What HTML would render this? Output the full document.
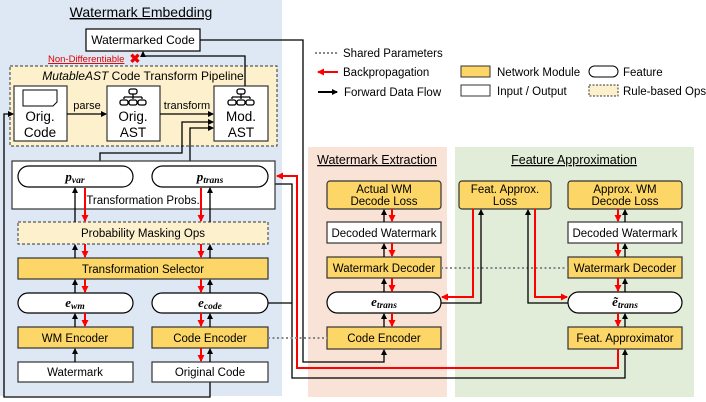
<!DOCTYPE html>
<html><head><meta charset="utf-8"><style>
html,body{margin:0;padding:0;background:#fff}
svg{display:block}
text{font-family:"Liberation Sans",sans-serif;font-size:11.5px;fill:#000}
.m{font-family:"Liberation Serif",serif;font-style:italic;font-weight:bold;font-size:13px}
</style></head><body>
<svg width="706" height="402" viewBox="0 0 706 402" xmlns="http://www.w3.org/2000/svg">
<defs>
<marker id="ab" markerWidth="6" markerHeight="6" refX="5" refY="3" orient="auto" markerUnits="userSpaceOnUse"><path d="M0,0 L6,3 L0,6 z" fill="#000"/></marker>
<marker id="ar" markerWidth="7" markerHeight="7" refX="6" refY="3.5" orient="auto" markerUnits="userSpaceOnUse"><path d="M0,0 L7,3.5 L0,7 z" fill="#f00"/></marker>
</defs>
<rect x="0" y="0" width="282" height="396" fill="#dde8f4"/>
<rect x="308" y="147" width="139" height="250" fill="#f9e2d6"/>
<rect x="455" y="147" width="239" height="250" fill="#e2edd9"/>
<text x="141" y="17" text-anchor="middle" style="font-size:14px;text-decoration:underline">Watermark Embedding</text>
<text x="377" y="164" text-anchor="middle" style="font-size:12.5px;text-decoration:underline">Watermark Extraction</text>
<text x="574" y="164" text-anchor="middle" style="font-size:12.5px;text-decoration:underline">Feature Approximation</text>

<line x1="315" y1="53" x2="337" y2="53" stroke="#888" stroke-width="2" stroke-dasharray="2,2"/>
<text x="343" y="57">Shared Parameters</text>
<line x1="338" y1="72" x2="318" y2="72" stroke="#f00" stroke-width="2" marker-end="url(#ar)"/>
<text x="343" y="76">Backpropagation</text>
<line x1="318" y1="92" x2="337" y2="92" stroke="#000" stroke-width="2" marker-end="url(#ab)"/>
<text x="344" y="96">Forward Data Flow</text>
<rect x="461" y="66" width="29" height="11" fill="#fcd666" stroke="#333"/>
<text x="497" y="76">Network Module</text>
<rect x="461" y="85" width="29" height="11" fill="#fff" stroke="#333"/>
<text x="497" y="95">Input / Output</text>
<rect x="589" y="66" width="29" height="11" rx="5.5" fill="#fff" stroke="#000"/>
<text x="623" y="76">Feature</text>
<rect x="589" y="85" width="29" height="11" fill="#fdf0cc" stroke="#333" stroke-dasharray="2,1.5"/>
<text x="623" y="95">Rule-based Ops</text>

<rect x="86" y="29" width="114" height="22" fill="#fff" stroke="#000" stroke-width="1.2"/>
<text x="143" y="44" text-anchor="middle" style="font-size:12px">Watermarked Code</text>
<text x="48" y="62" style="font-size:9.5px;fill:#d00;text-decoration:underline">Non-Differentiable</text>
<text x="135" y="63" text-anchor="middle" style="font-size:13px;font-weight:bold;fill:#e00">✖</text>

<rect x="10" y="66" width="267" height="80" fill="#fdf0cc" stroke="#333" stroke-dasharray="3,2"/>
<text x="143" y="80" text-anchor="middle" style="font-size:12px"><tspan font-style="italic">MutableAST</tspan> Code Transform Pipeline</text>
<rect x="14" y="86" width="53" height="55" fill="#fff" stroke="#333" stroke-width="1.2"/>
<path d="M23,90 h34 v12 l-4,4 h-30 z" fill="#fff" stroke="#000"/>
<text x="40" y="121" text-anchor="middle" style="font-size:13.5px">Orig.</text>
<text x="40" y="137" text-anchor="middle" style="font-size:13.5px">Code</text>
<rect x="107" y="86" width="53" height="55" fill="#fff" stroke="#333" stroke-width="1.2"/>
<rect x="214" y="86" width="54" height="55" fill="#fff" stroke="#333" stroke-width="1.2"/>
<g fill="#fff" stroke="#000" stroke-width="1.3">
<rect x="129" y="89" width="8" height="5" rx="2"/><path d="M133,94 v3 M124,97 h18 M124,97 v2 M133,97 v2 M142,97 v2"/>
<rect x="120" y="100" width="8" height="5" rx="2"/><rect x="129" y="100" width="8" height="5" rx="2"/><rect x="138" y="100" width="8" height="5" rx="2"/>
<rect x="237" y="89" width="8" height="5" rx="2"/><path d="M241,94 v3 M232,97 h18 M232,97 v2 M241,97 v2 M250,97 v2"/>
<rect x="228" y="100" width="8" height="5" rx="2"/><rect x="237" y="100" width="8" height="5" rx="2"/><rect x="246" y="100" width="8" height="5" rx="2"/>
</g>
<text x="133" y="121" text-anchor="middle" style="font-size:13.5px">Orig.</text>
<text x="133" y="137" text-anchor="middle" style="font-size:13.5px">AST</text>
<text x="241" y="121" text-anchor="middle" style="font-size:13.5px">Mod.</text>
<text x="241" y="137" text-anchor="middle" style="font-size:13.5px">AST</text>
<text x="87" y="109" text-anchor="middle" style="font-size:11px">parse</text>
<text x="187" y="109" text-anchor="middle" style="font-size:11px">transform</text>
<g stroke="#000" stroke-width="1.3" fill="none">
<line x1="67" y1="114" x2="106" y2="114" marker-end="url(#ab)"/>
<line x1="160" y1="114" x2="213" y2="114" marker-end="url(#ab)"/>
<polyline points="245,86 245,56 143,56 143,52" marker-end="url(#ab)"/>
<polyline points="100,166 100,153 182,153 182,122 213,122" marker-end="url(#ab)"/>
<polyline points="190,166 190,128 213,128" marker-end="url(#ab)"/>
<polyline points="200,40 303,40 303,362 384,362 384,350" marker-end="url(#ab)"/>
<polyline points="210,382 210,397 4,397 4,114 13,114" marker-end="url(#ab)"/>
<polyline points="275,184 292,184 292,378 625,378 625,350" marker-end="url(#ab)"/>
<line x1="268" y1="303" x2="292" y2="303"/>
</g>
<polyline points="618,349 618,368 297,368 297,176 277,176" fill="none" stroke="#f00" stroke-width="2" marker-end="url(#ar)"/>

<rect x="12" y="161" width="263" height="48" fill="#fff" stroke="#333" stroke-width="1.2"/>
<rect x="18" y="166" width="115" height="21" rx="10.5" fill="#fff" stroke="#000" stroke-width="1.2"/>
<rect x="152" y="166" width="116" height="21" rx="10.5" fill="#fff" stroke="#000" stroke-width="1.2"/>
<text x="75" y="181" text-anchor="middle" class="m">p<tspan style="font-size:9.5px" dy="2">var</tspan></text>
<text x="210" y="181" text-anchor="middle" class="m">p<tspan style="font-size:9.5px" dy="2">trans</tspan></text>
<text x="143" y="204" text-anchor="middle">Transformation Probs.</text>

<rect x="18" y="222" width="250" height="22" fill="#fdf0cc" stroke="#333" stroke-dasharray="3,2"/>
<text x="143" y="237" text-anchor="middle">Probability Masking Ops</text>
<rect x="18" y="258" width="250" height="21" fill="#fcd666" stroke="#333" stroke-width="1.2"/>
<text x="143" y="273" text-anchor="middle">Transformation Selector</text>
<rect x="18" y="293" width="115" height="20" rx="10" fill="#fff" stroke="#000" stroke-width="1.2"/>
<rect x="152" y="293" width="116" height="20" rx="10" fill="#fff" stroke="#000" stroke-width="1.2"/>
<text x="75" y="307" text-anchor="middle" class="m">e<tspan style="font-size:9.5px" dy="2">wm</tspan></text>
<text x="210" y="307" text-anchor="middle" class="m">e<tspan style="font-size:9.5px" dy="2">code</tspan></text>
<rect x="18" y="327" width="115" height="21" fill="#fcd666" stroke="#333" stroke-width="1.2"/>
<rect x="152" y="327" width="116" height="21" fill="#fcd666" stroke="#333" stroke-width="1.2"/>
<text x="75" y="342" text-anchor="middle">WM Encoder</text>
<text x="210" y="342" text-anchor="middle">Code Encoder</text>
<rect x="18" y="362" width="115" height="20" fill="#fff" stroke="#333" stroke-width="1.2"/>
<rect x="152" y="362" width="116" height="20" fill="#fff" stroke="#333" stroke-width="1.2"/>
<text x="75" y="376" text-anchor="middle">Watermark</text>
<text x="210" y="376" text-anchor="middle">Original Code</text>

<g stroke="#000" stroke-width="1.3" marker-end="url(#ab)">
<line x1="75" y1="222" x2="75" y2="188"/><line x1="210" y1="222" x2="210" y2="188"/>
<line x1="75" y1="258" x2="75" y2="245"/><line x1="210" y1="258" x2="210" y2="245"/>
<line x1="75" y1="293" x2="75" y2="280"/><line x1="210" y1="293" x2="210" y2="280"/>
<line x1="75" y1="327" x2="75" y2="314"/><line x1="210" y1="327" x2="210" y2="314"/>
<line x1="75" y1="362" x2="75" y2="349"/><line x1="210" y1="362" x2="210" y2="349"/>
</g>
<g stroke="#f00" stroke-width="2" marker-end="url(#ar)">
<line x1="85" y1="188" x2="85" y2="221"/><line x1="201" y1="188" x2="201" y2="221"/>
<line x1="85" y1="244" x2="85" y2="257"/><line x1="201" y1="244" x2="201" y2="257"/>
<line x1="85" y1="279" x2="85" y2="292"/><line x1="201" y1="279" x2="201" y2="292"/>
<line x1="85" y1="313" x2="85" y2="326"/><line x1="201" y1="313" x2="201" y2="326"/>
<line x1="201" y1="348" x2="201" y2="361"/>
</g>

<rect x="327" y="181" width="114" height="28" rx="3" fill="#fcd666" stroke="#333" stroke-width="1.2"/>
<text x="384" y="193" text-anchor="middle">Actual WM</text><text x="384" y="205" text-anchor="middle">Decode Loss</text>
<rect x="327" y="222" width="114" height="21" fill="#fff" stroke="#333" stroke-width="1.2"/>
<text x="384" y="237" text-anchor="middle">Decoded Watermark</text>
<rect x="327" y="257" width="114" height="21" fill="#fcd666" stroke="#333" stroke-width="1.2"/>
<text x="384" y="272" text-anchor="middle">Watermark Decoder</text>
<rect x="327" y="292" width="114" height="21" rx="10.5" fill="#fff" stroke="#000" stroke-width="1.2"/>
<text x="384" y="306" text-anchor="middle" class="m">e<tspan style="font-size:9.5px" dy="2">trans</tspan></text>
<rect x="327" y="327" width="114" height="22" fill="#fcd666" stroke="#333" stroke-width="1.2"/>
<text x="384" y="342" text-anchor="middle">Code Encoder</text>

<rect x="459" y="181" width="92" height="28" rx="3" fill="#fcd666" stroke="#333" stroke-width="1.2"/>
<text x="505" y="193" text-anchor="middle">Feat. Approx.</text><text x="505" y="205" text-anchor="middle">Loss</text>
<rect x="568" y="181" width="114" height="28" rx="3" fill="#fcd666" stroke="#333" stroke-width="1.2"/>
<text x="625" y="193" text-anchor="middle">Approx. WM</text><text x="625" y="205" text-anchor="middle">Decode Loss</text>
<rect x="568" y="222" width="114" height="21" fill="#fff" stroke="#333" stroke-width="1.2"/>
<text x="625" y="237" text-anchor="middle">Decoded Watermark</text>
<rect x="568" y="257" width="114" height="21" fill="#fcd666" stroke="#333" stroke-width="1.2"/>
<text x="625" y="272" text-anchor="middle">Watermark Decoder</text>
<rect x="568" y="292" width="114" height="21" rx="10.5" fill="#fff" stroke="#000" stroke-width="1.2"/>
<text x="625" y="306" text-anchor="middle" class="m">ẽ<tspan style="font-size:9.5px" dy="2">trans</tspan></text>
<rect x="568" y="327" width="114" height="22" fill="#fcd666" stroke="#333" stroke-width="1.2"/>
<text x="625" y="342" text-anchor="middle">Feat. Approximator</text>

<g stroke="#888" stroke-width="2" stroke-dasharray="2,2.5">
<line x1="268" y1="338" x2="327" y2="338"/>
<line x1="441" y1="268" x2="568" y2="268"/>
</g>

<g stroke="#000" stroke-width="1.3" fill="none" marker-end="url(#ab)">
<line x1="384" y1="327" x2="384" y2="314"/><line x1="384" y1="292" x2="384" y2="279"/>
<line x1="384" y1="257" x2="384" y2="244"/><line x1="384" y1="222" x2="384" y2="210"/>
<line x1="625" y1="327" x2="625" y2="314"/><line x1="625" y1="292" x2="625" y2="279"/>
<line x1="625" y1="257" x2="625" y2="244"/><line x1="625" y1="222" x2="625" y2="210"/>
<polyline points="441,303 481,303 481,210"/>
<polyline points="568,303 528,303 528,210"/>
</g>
<g stroke="#f00" stroke-width="2" fill="none" marker-end="url(#ar)">
<line x1="392" y1="209" x2="392" y2="221"/><line x1="392" y1="243" x2="392" y2="256"/>
<line x1="392" y1="278" x2="392" y2="291"/><line x1="392" y1="313" x2="392" y2="326"/>
<line x1="618" y1="209" x2="618" y2="221"/><line x1="618" y1="243" x2="618" y2="256"/>
<line x1="618" y1="278" x2="618" y2="291"/><line x1="618" y1="313" x2="618" y2="326"/>
<polyline points="473,209 473,297 442,297"/>
<polyline points="535,209 535,297 567,297"/>
</g>
</svg>
</body></html>
